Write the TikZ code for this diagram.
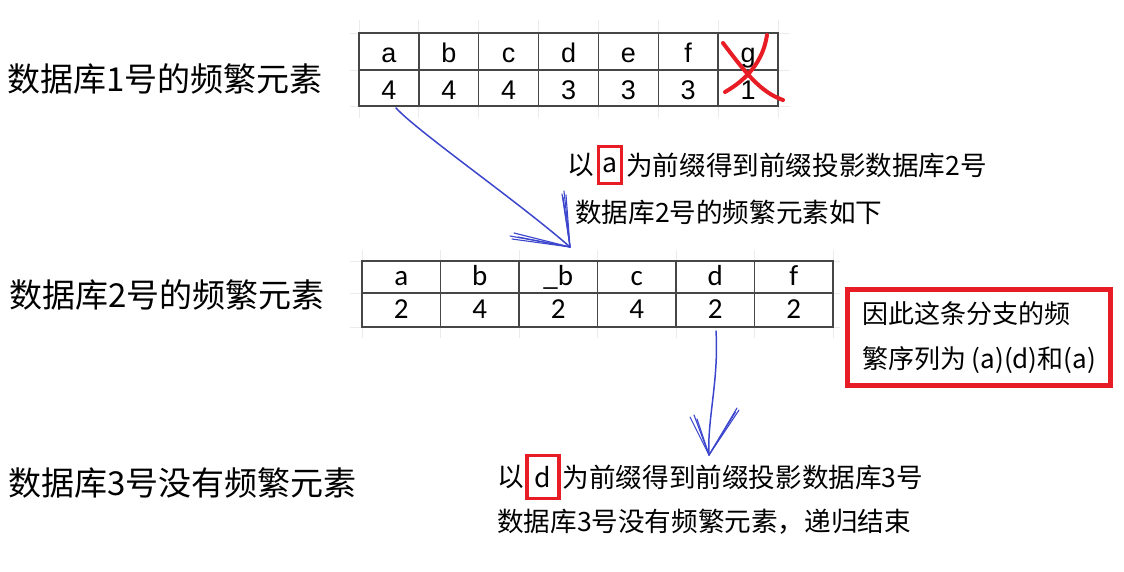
\documentclass[tikz,border=0pt]{standalone}
\usepackage{fontspec}
\setmainfont{Noto Sans CJK SC}
\newfontfamily\sheetfont{Liberation Sans}
\newfontfamily\sheettwofont{Carlito}
\usetikzlibrary{positioning}
\definecolor{penblue}{RGB}{60,70,205}
\definecolor{markred}{RGB}{232,28,36}
\definecolor{rulegray}{RGB}{70,70,70}

\begin{document}
\begin{tikzpicture}[x=1pt,y=-1pt,
		dbname/.style={anchor=west,inner sep=0pt,font=\fontsize{33}{38}\selectfont},
		note/.style={inner sep=0pt,font=\fontsize{26.6}{30}\selectfont},
		redbox/.style={note,draw=markred,line width=3.5pt},
		cellone/.style={anchor=base,inner sep=0pt,font=\sheetfont\fontsize{27}{30}\selectfont},
		celltwo/.style={anchor=base,inner sep=0pt,font=\sheettwofont\fontsize{29}{32}\selectfont},
		sheetline/.style={black!8,line width=0.8pt},
		tableline/.style={rulegray,line width=1.5pt},
		pen/.style={penblue,line width=1.5pt,line cap=round,line join=round},
		xstroke/.style={markred,line width=4pt,line cap=round}]
	\useasboundingbox (0,0) rectangle (1124,572);
	
	% table of database 1
	\foreach \y in {33,70,106} \draw[sheetline] (350,\y) -- (790,\y);
	\foreach \i in {0,...,7} \draw[sheetline] ({359+59.86*\i},20) -- ++(0,98);
	\foreach \l/\n [count=\i] in {a/4,b/4,c/4,d/3,e/3,f/3,g/1} {
		\node[cellone] (one-\l)   at ({359+59.86*(\i-0.5)},63)  {\l};
		\node[cellone] (one-\l-n) at ({359+59.86*(\i-0.5)},100) {\n};
	}
	\draw[tableline] (359,33) rectangle (778,106) (359,70) -- (778,70);
	\foreach \i in {1,...,6} \draw[tableline] ({359+59.86*\i},33) -- ++(0,73);
	\draw[xstroke] (723,43) .. controls (745,72) and (760,92) .. (783,100);
	\draw[xstroke] (767,35) .. controls (763,62) and (746,80) .. (725,92);
	
	% table of database 2
	\foreach \y in {261,293,327} \draw[sheetline] (350,\y) -- (840,\y);
	\foreach \i in {0,...,6} \draw[sheetline] ({362+78.5*\i},250) -- ++(0,88);
	\foreach \l/\n [count=\i] in {a/2,b/4,\_b/2,c/4,d/2,f/2} {
		\node[celltwo] (two-\i)   at ({362+78.5*(\i-0.5)},285) {\l};
		\node[celltwo] (two-\i-n) at ({362+78.5*(\i-0.5)},318) {\n};
	}
	\draw[tableline] (362,261) rectangle (833,327) (362,293) -- (833,293);
	\foreach \i in {1,...,5} \draw[tableline] ({362+78.5*\i},261) -- ++(0,66);
	
	% names on the left
	\node[dbname] (dbone)   at (7,79)  {数据库1号的频繁元素};
	\node[dbname] (dbtwo)   at (9,295) {数据库2号的频繁元素};
	\node[dbname] (dbthree) at (8,483) {数据库3号没有频繁元素};
	
	% projection on a
	\node[note,anchor=west] (prefa-pre) at (567,165) {以};
	\node[redbox,minimum width=23,minimum height=37] (prefa-box) [right=2.5pt of prefa-pre] {a};
	\node[note] (prefa-post) [right=3pt of prefa-box] {为前缀得到前缀投影数据库2号};
	\node[note,anchor=west] (prefa-res) at (575,212) {数据库2号的频繁元素如下};
	
	% projection on d
	\node[note,anchor=west] (prefd-pre) at (497,477) {以};
	\node[redbox,minimum width=32,minimum height=43] (prefd-box) [right=1pt of prefd-pre] {d};
	\node[note] (prefd-post) [right=2pt of prefd-box] {为前缀得到前缀投影数据库3号};
	\node[note,anchor=west] (prefd-res) at (497,522) {数据库3号没有频繁元素，递归结束};
	
	% result
	\node[draw=markred,line width=5pt,minimum width=263,minimum height=96,align=left,
		inner sep=0pt,font=\fontsize{26}{45}\selectfont] (summary) at (979,337.5)
		{因此这条分支的频\\繁序列为 (a)(d)和(a)};
	
	% hand drawn arrows
	\coordinate (startone) at (396,108);
	\coordinate (tipone)   at (570,247);
	\draw[pen] (startone) .. controls (418,132) and (520,203) .. (tipone);
	\foreach \dx/\dy in {0/0,4/-3,8/1,2/3} {
		\draw[pen,line width=1.1pt] (tipone) -- ++(-60+\dx,-11+\dy);
		\draw[pen,line width=1.1pt] (tipone) -- ++(-8+\dx/2,-53+\dy);
	}
	\coordinate (starttwo) at (716,331);
	\coordinate (tiptwo)   at (709,455);
	\draw[pen] (starttwo) .. controls (719,380) and (707,420) .. (tiptwo);
	\foreach \dx/\dy in {0/0,4/-2,7/2} {
		\draw[pen,line width=1.1pt] (tiptwo) -- ++(-19+\dx,-38+\dy);
		\draw[pen,line width=1.1pt] (tiptwo) -- ++(30-\dx/2,-45+\dy);
	}
\end{tikzpicture}
\end{document}
